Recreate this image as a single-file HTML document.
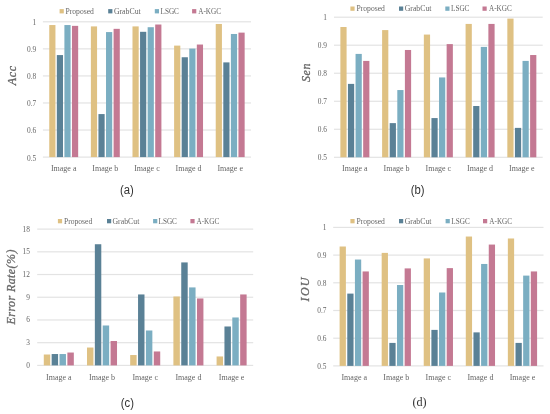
<!DOCTYPE html>
<html><head><meta charset="utf-8"><title>Charts</title>
<style>
html,body{margin:0;padding:0;background:#fff;}
svg{display:block;}
.tk{font-family:"Liberation Serif",serif;font-size:7.4px;fill:#666666;text-anchor:end;}
.cat{font-family:"Liberation Serif",serif;font-size:8px;fill:#666666;text-anchor:middle;}
.leg{font-family:"Liberation Serif",serif;font-size:7.8px;fill:#666666;}
.ttl{font-family:"Liberation Serif",serif;font-size:12px;font-style:italic;stroke:#666666;stroke-width:0.3px;fill:#666666;text-anchor:middle;}
.cap{font-family:"Liberation Sans",sans-serif;font-size:11.3px;fill:#333;text-anchor:middle;}
.capd{font-family:"Liberation Serif",serif;font-size:12.2px;fill:#333;text-anchor:middle;}
</style></head>
<body>
<svg width="550" height="414" viewBox="0 0 550 414">
<rect width="550" height="414" fill="#fff"/>
<rect x="42.9" y="156.5" width="208.1" height="1.2" fill="#E3E3E3"/>
<text x="36.2" y="160.5" class="tk">0.5</text>
<rect x="42.9" y="129.44" width="208.1" height="1.2" fill="#E3E3E3"/>
<text x="36.2" y="133.44" class="tk">0.6</text>
<rect x="42.9" y="102.38" width="208.1" height="1.2" fill="#E3E3E3"/>
<text x="36.2" y="106.38" class="tk">0.7</text>
<rect x="42.9" y="75.32" width="208.1" height="1.2" fill="#E3E3E3"/>
<text x="36.2" y="79.32" class="tk">0.8</text>
<rect x="42.9" y="48.26" width="208.1" height="1.2" fill="#E3E3E3"/>
<text x="36.2" y="52.26" class="tk">0.9</text>
<rect x="42.9" y="21.2" width="208.1" height="1.2" fill="#E3E3E3"/>
<text x="36.2" y="25.2" class="tk">1</text>
<rect x="49.25" y="25.05" width="6.2" height="132.05" fill="#DFC183"/>
<rect x="56.82" y="55.08" width="6.2" height="102.02" fill="#5A8196"/>
<rect x="64.4" y="25.05" width="6.2" height="132.05" fill="#7BAEC2"/>
<rect x="71.97" y="25.86" width="6.2" height="131.24" fill="#C47993"/>
<text x="63.71" y="171" class="cat">Image a</text>
<rect x="90.87" y="26.4" width="6.2" height="130.7" fill="#DFC183"/>
<rect x="98.44" y="114.07" width="6.2" height="43.03" fill="#5A8196"/>
<rect x="106.02" y="32.08" width="6.2" height="125.02" fill="#7BAEC2"/>
<rect x="113.59" y="28.84" width="6.2" height="128.26" fill="#C47993"/>
<text x="105.33" y="171" class="cat">Image b</text>
<rect x="132.49" y="26.4" width="6.2" height="130.7" fill="#DFC183"/>
<rect x="140.06" y="31.81" width="6.2" height="125.29" fill="#5A8196"/>
<rect x="147.64" y="27.21" width="6.2" height="129.89" fill="#7BAEC2"/>
<rect x="155.21" y="24.51" width="6.2" height="132.59" fill="#C47993"/>
<text x="146.95" y="171" class="cat">Image c</text>
<rect x="174.11" y="45.61" width="6.2" height="111.49" fill="#DFC183"/>
<rect x="181.68" y="57.25" width="6.2" height="99.85" fill="#5A8196"/>
<rect x="189.26" y="48.59" width="6.2" height="108.51" fill="#7BAEC2"/>
<rect x="196.83" y="44.53" width="6.2" height="112.57" fill="#C47993"/>
<text x="188.57" y="171" class="cat">Image d</text>
<rect x="215.73" y="23.96" width="6.2" height="133.14" fill="#DFC183"/>
<rect x="223.3" y="62.39" width="6.2" height="94.71" fill="#5A8196"/>
<rect x="230.88" y="33.98" width="6.2" height="123.12" fill="#7BAEC2"/>
<rect x="238.45" y="32.62" width="6.2" height="124.48" fill="#C47993"/>
<text x="230.19" y="171" class="cat">Image e</text>
<rect x="59.6" y="9.1" width="4.2" height="4.3" fill="#DFC183"/>
<text x="65.5" y="13.7" class="leg" textLength="28.4" lengthAdjust="spacingAndGlyphs">Proposed</text>
<rect x="108.2" y="9.1" width="4.2" height="4.3" fill="#5A8196"/>
<text x="113.9" y="13.7" class="leg" textLength="26.8" lengthAdjust="spacingAndGlyphs">GrabCut</text>
<rect x="154.8" y="9.1" width="4.2" height="4.3" fill="#7BAEC2"/>
<text x="160.5" y="13.7" class="leg" textLength="18.4" lengthAdjust="spacingAndGlyphs">LSGC</text>
<rect x="192.1" y="9.1" width="4.2" height="4.3" fill="#C47993"/>
<text x="198.2" y="13.7" class="leg" textLength="22.8" lengthAdjust="spacingAndGlyphs">A-KGC</text>
<text transform="translate(16.3,75.55) rotate(-90)" class="ttl" textLength="19.3" lengthAdjust="spacing">Acc</text>
<text transform="translate(126.9,193.7) scale(1,1.08)" class="cap">(a)</text>
<rect x="334" y="156.7" width="208.7" height="1.2" fill="#E3E3E3"/>
<text x="327" y="159.8" class="tk">0.5</text>
<rect x="334" y="128.68" width="208.7" height="1.2" fill="#E3E3E3"/>
<text x="327" y="131.78" class="tk">0.6</text>
<rect x="334" y="100.66" width="208.7" height="1.2" fill="#E3E3E3"/>
<text x="327" y="103.76" class="tk">0.7</text>
<rect x="334" y="72.64" width="208.7" height="1.2" fill="#E3E3E3"/>
<text x="327" y="75.74" class="tk">0.8</text>
<rect x="334" y="44.62" width="208.7" height="1.2" fill="#E3E3E3"/>
<text x="327" y="47.72" class="tk">0.9</text>
<rect x="334" y="16.6" width="208.7" height="1.2" fill="#E3E3E3"/>
<text x="327" y="19.7" class="tk">1</text>
<rect x="340.37" y="27.01" width="6.22" height="130.29" fill="#DFC183"/>
<rect x="347.96" y="83.89" width="6.22" height="73.41" fill="#5A8196"/>
<rect x="355.56" y="53.91" width="6.22" height="103.39" fill="#7BAEC2"/>
<rect x="363.16" y="60.91" width="6.22" height="96.39" fill="#C47993"/>
<text x="354.87" y="171" class="cat">Image a</text>
<rect x="382.11" y="30.09" width="6.22" height="127.21" fill="#DFC183"/>
<rect x="389.7" y="123.12" width="6.22" height="34.18" fill="#5A8196"/>
<rect x="397.3" y="90.05" width="6.22" height="67.25" fill="#7BAEC2"/>
<rect x="404.9" y="49.98" width="6.22" height="107.32" fill="#C47993"/>
<text x="396.61" y="171" class="cat">Image b</text>
<rect x="423.85" y="34.57" width="6.22" height="122.73" fill="#DFC183"/>
<rect x="431.44" y="118.07" width="6.22" height="39.23" fill="#5A8196"/>
<rect x="439.04" y="77.44" width="6.22" height="79.86" fill="#7BAEC2"/>
<rect x="446.64" y="44.1" width="6.22" height="113.2" fill="#C47993"/>
<text x="438.35" y="171" class="cat">Image c</text>
<rect x="465.59" y="23.92" width="6.22" height="133.38" fill="#DFC183"/>
<rect x="473.18" y="106.02" width="6.22" height="51.28" fill="#5A8196"/>
<rect x="480.78" y="46.9" width="6.22" height="110.4" fill="#7BAEC2"/>
<rect x="488.38" y="23.92" width="6.22" height="133.38" fill="#C47993"/>
<text x="480.09" y="171" class="cat">Image d</text>
<rect x="507.33" y="18.6" width="6.22" height="138.7" fill="#DFC183"/>
<rect x="514.92" y="127.88" width="6.22" height="29.42" fill="#5A8196"/>
<rect x="522.52" y="60.91" width="6.22" height="96.39" fill="#7BAEC2"/>
<rect x="530.12" y="55.03" width="6.22" height="102.27" fill="#C47993"/>
<text x="521.83" y="171" class="cat">Image e</text>
<rect x="350.4" y="6.5" width="4.2" height="4.3" fill="#DFC183"/>
<text x="356.5" y="11.1" class="leg" textLength="28.4" lengthAdjust="spacingAndGlyphs">Proposed</text>
<rect x="399" y="6.5" width="4.2" height="4.3" fill="#5A8196"/>
<text x="404.7" y="11.1" class="leg" textLength="26.8" lengthAdjust="spacingAndGlyphs">GrabCut</text>
<rect x="445.3" y="6.5" width="4.2" height="4.3" fill="#7BAEC2"/>
<text x="451" y="11.1" class="leg" textLength="18.4" lengthAdjust="spacingAndGlyphs">LSGC</text>
<rect x="482.5" y="6.5" width="4.2" height="4.3" fill="#C47993"/>
<text x="489" y="11.1" class="leg" textLength="22.8" lengthAdjust="spacingAndGlyphs">A-KGC</text>
<text transform="translate(310.3,72.85) rotate(-90)" class="ttl" textLength="18.5" lengthAdjust="spacing">Sen</text>
<text transform="translate(417.6,193.9) scale(1,1.08)" class="cap">(b)</text>
<rect x="37.2" y="364.8" width="216" height="1.2" fill="#E3E3E3"/>
<text x="30" y="367.8" class="tk">0</text>
<rect x="37.2" y="342.08" width="216" height="1.2" fill="#E3E3E3"/>
<text x="30" y="345.08" class="tk">3</text>
<rect x="37.2" y="319.37" width="216" height="1.2" fill="#E3E3E3"/>
<text x="30" y="322.37" class="tk">6</text>
<rect x="37.2" y="296.65" width="216" height="1.2" fill="#E3E3E3"/>
<text x="30" y="299.65" class="tk">9</text>
<rect x="37.2" y="273.93" width="216" height="1.2" fill="#E3E3E3"/>
<text x="30" y="276.93" class="tk">12</text>
<rect x="37.2" y="251.22" width="216" height="1.2" fill="#E3E3E3"/>
<text x="30" y="254.22" class="tk">15</text>
<rect x="37.2" y="228.5" width="216" height="1.2" fill="#E3E3E3"/>
<text x="30" y="231.5" class="tk">18</text>
<rect x="43.79" y="354.5" width="6.44" height="10.9" fill="#DFC183"/>
<rect x="51.65" y="354.04" width="6.44" height="11.36" fill="#5A8196"/>
<rect x="59.51" y="354.04" width="6.44" height="11.36" fill="#7BAEC2"/>
<rect x="67.38" y="352.53" width="6.44" height="12.87" fill="#C47993"/>
<text x="58.8" y="379.5" class="cat">Image a</text>
<rect x="86.99" y="347.53" width="6.44" height="17.87" fill="#DFC183"/>
<rect x="94.85" y="244.24" width="6.44" height="121.16" fill="#5A8196"/>
<rect x="102.71" y="325.49" width="6.44" height="39.91" fill="#7BAEC2"/>
<rect x="110.58" y="341.02" width="6.44" height="24.38" fill="#C47993"/>
<text x="102" y="379.5" class="cat">Image b</text>
<rect x="130.19" y="355.03" width="6.44" height="10.37" fill="#DFC183"/>
<rect x="138.05" y="294.45" width="6.44" height="70.95" fill="#5A8196"/>
<rect x="145.91" y="330.49" width="6.44" height="34.91" fill="#7BAEC2"/>
<rect x="153.78" y="351.47" width="6.44" height="13.93" fill="#C47993"/>
<text x="145.2" y="379.5" class="cat">Image c</text>
<rect x="173.39" y="296.49" width="6.44" height="68.91" fill="#DFC183"/>
<rect x="181.25" y="262.42" width="6.44" height="102.98" fill="#5A8196"/>
<rect x="189.11" y="287.41" width="6.44" height="77.99" fill="#7BAEC2"/>
<rect x="196.98" y="298.46" width="6.44" height="66.94" fill="#C47993"/>
<text x="188.4" y="379.5" class="cat">Image d</text>
<rect x="216.59" y="356.46" width="6.44" height="8.94" fill="#DFC183"/>
<rect x="224.45" y="326.48" width="6.44" height="38.92" fill="#5A8196"/>
<rect x="232.31" y="317.47" width="6.44" height="47.93" fill="#7BAEC2"/>
<rect x="240.18" y="294.45" width="6.44" height="70.95" fill="#C47993"/>
<text x="231.6" y="379.5" class="cat">Image e</text>
<rect x="57.9" y="219" width="4.2" height="4.3" fill="#DFC183"/>
<text x="63.9" y="223.6" class="leg" textLength="28.4" lengthAdjust="spacingAndGlyphs">Proposed</text>
<rect x="107" y="219" width="4.2" height="4.3" fill="#5A8196"/>
<text x="112.5" y="223.6" class="leg" textLength="26.8" lengthAdjust="spacingAndGlyphs">GrabCut</text>
<rect x="153.1" y="219" width="4.2" height="4.3" fill="#7BAEC2"/>
<text x="158.5" y="223.6" class="leg" textLength="18.4" lengthAdjust="spacingAndGlyphs">LSGC</text>
<rect x="190.4" y="219" width="4.2" height="4.3" fill="#C47993"/>
<text x="196.5" y="223.6" class="leg" textLength="22.8" lengthAdjust="spacingAndGlyphs">A-KGC</text>
<text transform="translate(15.3,287) rotate(-90)" class="ttl" textLength="74.8" lengthAdjust="spacing">Error Rate(%)</text>
<text transform="translate(127.3,406.7) scale(1,1.08)" class="cap">(c)</text>
<rect x="333.2" y="365.3" width="210.3" height="1.2" fill="#E3E3E3"/>
<text x="326.5" y="368.8" class="tk">0.5</text>
<rect x="333.2" y="337.6" width="210.3" height="1.2" fill="#E3E3E3"/>
<text x="326.5" y="341.1" class="tk">0.6</text>
<rect x="333.2" y="309.9" width="210.3" height="1.2" fill="#E3E3E3"/>
<text x="326.5" y="313.4" class="tk">0.7</text>
<rect x="333.2" y="282.2" width="210.3" height="1.2" fill="#E3E3E3"/>
<text x="326.5" y="285.7" class="tk">0.8</text>
<rect x="333.2" y="254.5" width="210.3" height="1.2" fill="#E3E3E3"/>
<text x="326.5" y="258" class="tk">0.9</text>
<rect x="333.2" y="226.8" width="210.3" height="1.2" fill="#E3E3E3"/>
<text x="326.5" y="230.3" class="tk">1</text>
<rect x="339.61" y="246.51" width="6.27" height="119.39" fill="#DFC183"/>
<rect x="347.27" y="293.6" width="6.27" height="72.3" fill="#5A8196"/>
<rect x="354.92" y="259.53" width="6.27" height="106.37" fill="#7BAEC2"/>
<rect x="362.58" y="271.44" width="6.27" height="94.46" fill="#C47993"/>
<text x="354.23" y="379.5" class="cat">Image a</text>
<rect x="381.67" y="252.88" width="6.27" height="113.02" fill="#DFC183"/>
<rect x="389.33" y="342.91" width="6.27" height="22.99" fill="#5A8196"/>
<rect x="396.98" y="285.02" width="6.27" height="80.88" fill="#7BAEC2"/>
<rect x="404.64" y="268.4" width="6.27" height="97.5" fill="#C47993"/>
<text x="396.29" y="379.5" class="cat">Image b</text>
<rect x="423.73" y="258.42" width="6.27" height="107.48" fill="#DFC183"/>
<rect x="431.39" y="329.89" width="6.27" height="36.01" fill="#5A8196"/>
<rect x="439.04" y="292.5" width="6.27" height="73.4" fill="#7BAEC2"/>
<rect x="446.7" y="268.12" width="6.27" height="97.78" fill="#C47993"/>
<text x="438.35" y="379.5" class="cat">Image c</text>
<rect x="465.79" y="236.54" width="6.27" height="129.36" fill="#DFC183"/>
<rect x="473.45" y="332.38" width="6.27" height="33.52" fill="#5A8196"/>
<rect x="481.1" y="263.96" width="6.27" height="101.94" fill="#7BAEC2"/>
<rect x="488.76" y="244.57" width="6.27" height="121.33" fill="#C47993"/>
<text x="480.41" y="379.5" class="cat">Image d</text>
<rect x="507.85" y="238.48" width="6.27" height="127.42" fill="#DFC183"/>
<rect x="515.51" y="342.91" width="6.27" height="22.99" fill="#5A8196"/>
<rect x="523.16" y="275.6" width="6.27" height="90.3" fill="#7BAEC2"/>
<rect x="530.82" y="271.44" width="6.27" height="94.46" fill="#C47993"/>
<text x="522.47" y="379.5" class="cat">Image e</text>
<rect x="350.4" y="219" width="4.2" height="4.3" fill="#DFC183"/>
<text x="356.5" y="223.6" class="leg" textLength="28.4" lengthAdjust="spacingAndGlyphs">Proposed</text>
<rect x="399" y="219" width="4.2" height="4.3" fill="#5A8196"/>
<text x="404.7" y="223.6" class="leg" textLength="26.8" lengthAdjust="spacingAndGlyphs">GrabCut</text>
<rect x="445.6" y="219" width="4.2" height="4.3" fill="#7BAEC2"/>
<text x="451.3" y="223.6" class="leg" textLength="18.4" lengthAdjust="spacingAndGlyphs">LSGC</text>
<rect x="483" y="219" width="4.2" height="4.3" fill="#C47993"/>
<text x="489.3" y="223.6" class="leg" textLength="22.8" lengthAdjust="spacingAndGlyphs">A-KGC</text>
<text transform="translate(308.7,289.45) rotate(-90)" class="ttl" textLength="23.9" lengthAdjust="spacing">IOU</text>
<text transform="translate(419.5,406.4) scale(1,1)" class="capd">(d)</text>
</svg>
</body></html>
